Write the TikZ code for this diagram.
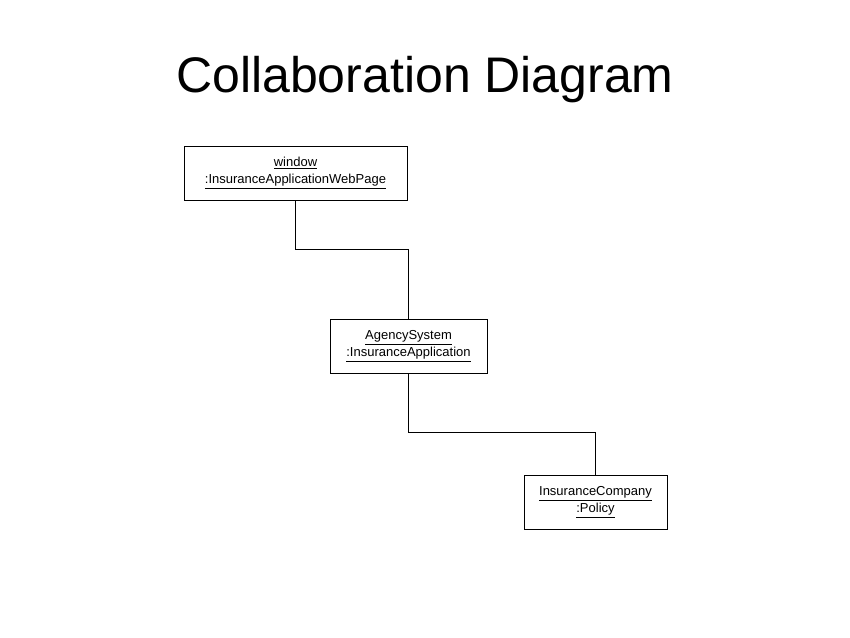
\documentclass[tikz,border=0pt]{standalone}
\usepackage{fontspec}
\setmainfont{Liberation Sans}
\begin{document}
\begin{tikzpicture}[x=1pt,y=-1pt,
  obj/.style={draw,line width=0.6pt,inner sep=0pt,align=center,font=\fontsize{13}{17}\selectfont},
  conn/.style={line width=0.6pt}]
\useasboundingbox (0,0) rectangle (850,637);
\node[font=\fontsize{50}{56}\selectfont] (title) at (425,80) {Collaboration Diagram};
\node[obj,minimum width=223pt,minimum height=54pt] (w) at (295.5,173) {\underline{window}\\\underline{:InsuranceApplicationWebPage}};
\node[obj,minimum width=157pt,minimum height=54pt] (a) at (408.5,346) {\underline{AgencySystem}\\\underline{:InsuranceApplication}};
\node[obj,minimum width=143pt,minimum height=54pt] (p) at (595.5,502) {\underline{InsuranceCompany}\\\underline{:Policy}};
\draw[conn] (w.south) -- ++(0,49) -| (a.north);
\draw[conn] (a.south) -- ++(0,59) -| (p.north);
\end{tikzpicture}
\end{document}
